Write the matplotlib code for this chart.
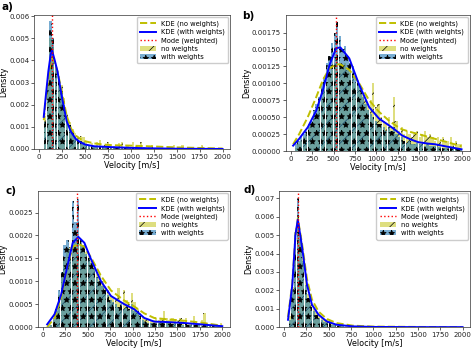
"""Velocity distributions for four cases: weighted vs unweighted histograms,
KDE curves and the weighted mode -> out.png
"""
import numpy as np
import matplotlib.pyplot as plt
from matplotlib.ticker import FormatStrFormatter

plt.rcParams["hatch.linewidth"] = 0.5

# 30 m/s bins between 50 and 2000 m/s
BIN_W = 30
BIN_LEFT = np.arange(50, 2000, BIN_W)

# all densities below are in units of 1e-3 per (m/s)

# a)
A_HIST_NOW = [1.5, 3.2, 5.0, 4.6, 3.7, 3.3, 2.9, 2.3, 1.6, 1.2,
              0.9, 0.7, 0.5, 0.6, 0.55, 0.3, 0.2, 0.25, 0.15, 0.3,
              0.4, 0.15, 0.2, 0.3, 0.1, 0.15, 0.1, 0.25, 0.3, 0.1,
              0.15, 0.1, 0.3, 0.15, 0.2, 0.3, 0.1, 0.0, 0.1, 0.2,
              0, 0, 0, 0, 0, 0, 0, 0.2, 0, 0,
              0.2, 0, 0, 0, 0, 0, 0, 0.2, 0, 0,
              0, 0, 0, 0, 0]
A_HIST_W = [1.2, 3.0, 5.8, 5.0, 3.8, 3.2, 2.6, 2.0, 1.4, 1.1,
            0.8, 0.55, 0.4, 0.35, 0.3, 0.2, 0.15, 0.12, 0.1, 0.12,
            0.1, 0.08, 0.06, 0.08, 0.05, 0.05, 0.04, 0.05, 0.06, 0.03,
            0.04, 0.03, 0.05, 0.03, 0.04, 0.05, 0.02, 0, 0.02, 0.03,
            0, 0, 0, 0, 0, 0, 0, 0.02, 0, 0,
            0.02, 0, 0, 0, 0, 0, 0, 0.02, 0, 0,
            0, 0, 0, 0, 0]
A_KDE_X = [50, 75, 100, 125, 140, 170, 200, 250, 300, 350,
           400, 450, 500, 600, 700, 800, 1000, 1200, 1500, 2000]
A_KDE_NOW = [1.3, 2.3, 3.2, 3.9, 4.1, 3.9, 3.5, 2.5, 1.5, 0.9,
             0.6, 0.45, 0.35, 0.25, 0.2, 0.17, 0.15, 0.12, 0.07, 0.02]
A_KDE_W = [1.45, 2.5, 3.5, 4.25, 4.45, 4.0, 3.5, 2.3, 1.25, 0.75,
           0.45, 0.3, 0.2, 0.12, 0.1, 0.08, 0.05, 0.03, 0.01, 0.0]
A_MODE = 140

# b)
B_HIST_NOW = [0.05, 0.1, 0.15, 0.2, 0.25, 0.35, 0.4, 0.5, 0.55, 0.7,
              0.8, 0.9, 1.0, 1.1, 1.2, 1.3, 1.35, 1.3, 1.25, 1.3,
              1.2, 1.15, 1.1, 1.0, 1.05, 0.9, 0.85, 0.75, 0.7, 0.75,
              1.0, 0.65, 0.7, 0.5, 0.45, 0.4, 0.5, 0.35, 0.8, 0.45,
              0.3, 0.35, 0.25, 0.3, 0.25, 0.2, 0.25, 0.3, 0.2, 0.25,
              0.3, 0.2, 0.25, 0.2, 0.15, 0.2, 0.15, 0.2, 0.15, 0.15,
              0.2, 0.1, 0.15, 0.1, 0.1]
B_HIST_W = [0.1, 0.15, 0.2, 0.25, 0.3, 0.4, 0.45, 0.6, 0.7, 0.8,
            1.0, 1.1, 1.3, 1.4, 1.6, 1.75, 1.9, 1.7, 1.5, 1.55,
            1.4, 1.3, 1.25, 1.1, 1.0, 0.95, 0.8, 0.7, 0.6, 0.55,
            0.5, 0.45, 0.4, 0.4, 0.35, 0.3, 0.35, 0.3, 0.35, 0.25,
            0.2, 0.2, 0.15, 0.12, 0.15, 0.1, 0.1, 0.12, 0.1, 0.1,
            0.08, 0.1, 0.08, 0.07, 0.08, 0.06, 0.06, 0.05, 0.05, 0.04,
            0.05, 0.04, 0.03, 0.03, 0.02]
B_KDE_X = [30, 100, 200, 300, 376, 453, 530, 580, 683, 798, 914,
           1029, 1144, 1220, 1297, 1400, 1489, 1600, 1681, 1800, 1990]
B_KDE_NOW = [0.1, 0.25, 0.5, 0.8, 1.05, 1.22, 1.28, 1.28, 1.2, 1.0, 0.75,
             0.58, 0.45, 0.38, 0.32, 0.28, 0.25, 0.21, 0.18, 0.14, 0.07]
B_KDE_W = [0.08, 0.18, 0.35, 0.6, 0.9, 1.27, 1.52, 1.53, 1.37, 0.98, 0.65,
           0.48, 0.38, 0.31, 0.23, 0.17, 0.13, 0.11, 0.1, 0.07, 0.025]
B_MODE = 530

# c)
C_HIST_NOW = [0.0, 0.05, 0.15, 0.35, 0.7, 1.1, 1.5, 1.7, 1.75, 1.8,
              1.85, 1.9, 1.8, 1.75, 1.65, 1.55, 1.45, 1.35, 1.2, 1.15,
              1.0, 0.9, 0.8, 0.7, 0.65, 0.6, 0.85, 0.55, 0.8, 0.6,
              0.5, 0.75, 0.55, 0.4, 0.3, 0.25, 0.2, 0.18, 0.15, 0.15,
              0.2, 0.15, 0.2, 0.35, 0.2, 0.15, 0.2, 0.15, 0.15, 0.2,
              0.15, 0.2, 0.1, 0.1, 0.25, 0.1, 0.1, 0.15, 0.3, 0.1,
              0.05, 0.05, 0.05, 0.05, 0.1]
C_HIST_W = [0.02, 0.05, 0.2, 0.4, 0.8, 1.2, 1.8, 1.9, 1.7, 2.75,
            2.3, 2.8, 1.9, 1.8, 1.6, 1.5, 1.4, 1.3, 1.1, 1.0,
            0.9, 0.8, 0.7, 0.6, 0.55, 0.5, 0.45, 0.5, 0.4, 0.45,
            0.4, 0.5, 0.35, 0.3, 0.25, 0.15, 0.12, 0.1, 0.1, 0.08,
            0.1, 0.08, 0.1, 0.1, 0.08, 0.1, 0.06, 0.08, 0.06, 0.08,
            0.05, 0.06, 0.05, 0.05, 0.04, 0.05, 0.04, 0.03, 0.04, 0.03,
            0.02, 0.02, 0.02, 0.02, 0.01]
C_KDE_X = [48, 130, 204, 278, 333, 396, 463, 537, 648,
           759, 907, 1019, 1130, 1241, 1389, 1574, 1759, 2000]
C_KDE_NOW = [0.0, 0.2, 0.65, 1.35, 1.75, 1.82, 1.75, 1.52, 1.12,
             0.8, 0.58, 0.45, 0.3, 0.2, 0.17, 0.14, 0.1, 0.03]
C_KDE_W = [0.06, 0.28, 0.71, 1.37, 1.84, 1.97, 1.84, 1.48, 1.0,
           0.68, 0.5, 0.39, 0.2, 0.12, 0.11, 0.09, 0.06, 0.02]
C_MODE = 385

# d)
D_HIST_NOW = [0.6, 2.2, 5.2, 6.1, 5.0, 3.8, 2.6, 1.8, 1.3, 1.0,
              0.8, 0.6, 0.5, 0.4, 0.45, 0.4, 0.2, 0.15, 0.12, 0.1,
              0.06, 0.05, 0.04, 0.03, 0.03, 0.02, 0.02, 0.02, 0.01, 0.01,
              0.01, 0.01, 0, 0, 0, 0, 0, 0, 0, 0,
              0, 0, 0, 0, 0, 0, 0, 0, 0, 0,
              0, 0, 0, 0, 0, 0, 0, 0, 0, 0,
              0, 0, 0, 0, 0]
D_HIST_W = [0.4, 2.0, 5.0, 7.0, 4.8, 3.6, 2.3, 1.6, 1.1, 0.85,
            0.65, 0.5, 0.4, 0.3, 0.25, 0.2, 0.12, 0.1, 0.07, 0.05,
            0.04, 0.03, 0.02, 0.02, 0.02, 0.01, 0.01, 0.01, 0.01, 0.01,
            0, 0, 0, 0, 0, 0, 0, 0, 0, 0,
            0, 0, 0, 0, 0, 0, 0, 0, 0, 0,
            0, 0, 0, 0, 0, 0, 0, 0, 0, 0,
            0, 0, 0, 0, 0]
D_KDE_X = [44, 92, 128, 154, 202, 257, 312, 385, 477, 587, 771, 1000, 1500, 2000]
D_KDE_NOW = [0.55, 2.4, 5.0, 5.9, 4.5, 2.6, 1.5, 0.85, 0.45, 0.22, 0.08, 0.03, 0.01, 0.0]
D_KDE_W = [0.4, 2.3, 5.06, 5.85, 4.33, 2.3, 1.22, 0.68, 0.31, 0.13, 0.04, 0.01, 0.0, 0.0]
D_MODE = 155

X_TICKS = [0, 250, 500, 750, 1000, 1250, 1500, 1750, 2000]

PANELS = [
    # label, label pos, axes rect, data..., y top, last y tick, y step, y format
    ("a)", (0.004, 0.995), [0.072, 0.572, 0.414, 0.385],
     A_HIST_NOW, A_HIST_W, A_KDE_X, A_KDE_NOW, A_KDE_W, A_MODE, 0.00605, 0.006, 0.001, "%.3f"),
    ("b)", (0.510, 0.968), [0.603, 0.566, 0.388, 0.391],
     B_HIST_NOW, B_HIST_W, B_KDE_X, B_KDE_NOW, B_KDE_W, B_MODE, 0.00201, 0.00175, 0.00025, "%.5f"),
    ("c)", (0.012, 0.465), [0.080, 0.060, 0.405, 0.391],
     C_HIST_NOW, C_HIST_W, C_KDE_X, C_KDE_NOW, C_KDE_W, C_MODE, 0.00297, 0.0025, 0.0005, "%.4f"),
    ("d)", (0.513, 0.468), [0.589, 0.060, 0.403, 0.391],
     D_HIST_NOW, D_HIST_W, D_KDE_X, D_KDE_NOW, D_KDE_W, D_MODE, 0.0074, 0.007, 0.001, "%.3f"),
]


def draw(ax, h_now, h_w, kx, k_now, k_w, mode, ytop, ylast, ystep, yfmt):
    s = 1e-3
    b1 = ax.bar(BIN_LEFT, np.asarray(h_now) * s, width=BIN_W * 0.88, align="edge",
                color="y", alpha=0.5, hatch="//", linewidth=0)
    b2 = ax.bar(BIN_LEFT, np.asarray(h_w) * s, width=BIN_W * 0.88, align="edge",
                color="C0", alpha=0.6, hatch="**", linewidth=0)
    l1, = ax.plot(kx, np.asarray(k_now) * s, "--", color="y", lw=1.4)
    l2, = ax.plot(kx, np.asarray(k_w) * s, "-", color="b", lw=1.4)
    l3 = ax.axvline(mode, color="r", ls=":", lw=1.0)

    ax.set_xlim(-55, 2085)
    ax.set_ylim(0, ytop)
    ax.set_xticks(X_TICKS)
    ax.set_yticks(np.arange(0, ylast + ystep / 2, ystep))
    ax.yaxis.set_major_formatter(FormatStrFormatter(yfmt))
    ax.tick_params(labelsize=5.0, length=2, width=0.5, pad=1.5, colors="#222222")
    for sp in ax.spines.values():
        sp.set_linewidth(0.5)
        sp.set_color("#333333")
    ax.set_xlabel("Velocity [m/s]", fontsize=5.8, labelpad=1)
    ax.set_ylabel("Density", fontsize=5.8, labelpad=0.5)
    ax.legend([l1, l2, l3, b1, b2],
              ["KDE (no weights)", "KDE (with weights)", "Mode (weighted)", "no weights", "with weights"],
              loc="upper right", fontsize=4.9, handlelength=2.4, borderpad=0.5,
              labelspacing=0.3, handletextpad=0.7, framealpha=1, edgecolor="#cccccc",
              borderaxespad=0.3)


fig = plt.figure(figsize=(4.74, 3.48), dpi=100)
for p in PANELS:
    label, lpos, rect = p[0], p[1], p[2]
    ax = fig.add_axes(rect)
    draw(ax, *p[3:])
    fig.text(*lpos, label, fontsize=7.5, fontweight="bold", va="top", ha="left")

fig.savefig("out.png", dpi=100)
